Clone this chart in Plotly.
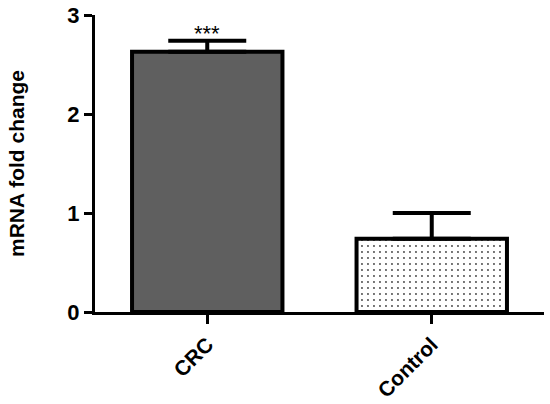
import plotly.graph_objects as go

# values
groups = ["CRC", "Control"]
fold_change = [2.63, 0.74]
sem_up = [0.11, 0.26]
bar_colors = ["#5f5f5f", "white"]
y_ticks = [0, 1, 2, 3]
signif = "***"

fig = go.Figure()

fig.add_trace(go.Bar(
    x=groups,
    y=fold_change,
    width=0.67,
    marker=dict(
        color=bar_colors,
        line=dict(color="black", width=4),
        pattern=dict(shape=["", "."], fgcolor="black", bgcolor="white",
                     fgopacity=1, size=6, solidity=0.08, fillmode="overlay"),
    ),
    error_y=dict(type="data", symmetric=False, array=sem_up,
                 arrayminus=[0, 0], color="black", thickness=4, width=39),
    showlegend=False,
    hoverinfo="skip",
))

fig.add_annotation(x=groups[0], y=fold_change[0] + sem_up[0], text=signif,
                   showarrow=False, yshift=7,
                   font=dict(family="Liberation Sans", size=22, color="black"))

fig.update_layout(
    width=550, height=404,
    margin=dict(l=95, r=6, t=15, b=92),
    paper_bgcolor="white", plot_bgcolor="white",
    font=dict(family="Liberation Sans", color="black"),
)

fig.update_xaxes(
    range=[-0.5, 1.5],
    automargin=False,
    showline=True, linecolor="black", linewidth=3,
    ticks="outside", ticklen=9, tickwidth=3, tickcolor="black",
    tickangle=-45,
    tickfont=dict(family="Liberation Sans", size=21, weight="bold", color="black"),
    showgrid=False, zeroline=False,
)

fig.update_yaxes(
    range=[0, 3],
    automargin=False,
    tickvals=y_ticks,
    showline=True, linecolor="black", linewidth=3,
    ticks="outside", ticklen=8, tickwidth=3, tickcolor="black",
    ticklabeloverflow="allow",
    tickfont=dict(family="Liberation Sans", size=22, weight="bold", color="black"),
    title=dict(text="mRNA fold change", standoff=37,
               font=dict(family="Liberation Sans", size=21, weight="bold", color="black")),
    showgrid=False, zeroline=False,
)

# drop the default 8px body margin so the figure sits at the page corner
fig.write_html("out.html", config={"displayModeBar": False},
               post_script="document.body.style.margin='0';")
